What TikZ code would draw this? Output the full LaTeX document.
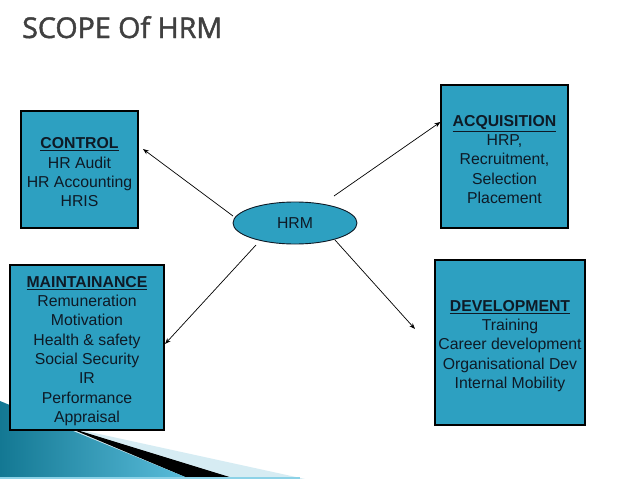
\documentclass[tikz,border=0pt]{standalone}
\usepackage{fontspec}
\setmainfont{Liberation Sans}
\newfontfamily\titlefont[FakeBold=1.6]{Open Sans}
\usetikzlibrary{shapes.geometric,arrows.meta}
\definecolor{boxfill}{HTML}{2DA0C1}
\definecolor{boxtext}{HTML}{0E1A26}
\definecolor{titlegray}{HTML}{404040}
\definecolor{wedgedark}{HTML}{137893}
\definecolor{wedgelight}{HTML}{5BBEDC}
\definecolor{wedgepale}{HTML}{D6ECF3}
\begin{document}
\begin{tikzpicture}[x=1pt,y=-1pt,
  hrbox/.style={draw=black,line width=1.1pt,fill=boxfill,inner sep=0pt},
  hrtext/.style={text=boxtext,align=center,inner sep=0pt,font=\fontsize{15.8}{19.3}\selectfont},
  hrell/.style={ellipse,draw=boxtext,line width=0.9pt,fill=boxfill,text=boxtext,inner sep=0pt,
    minimum width=124pt,minimum height=42pt,font=\fontsize{15.8}{19.3}\selectfont},
  arr/.style={line width=0.7pt,-{Stealth[length=6pt,width=4.5pt]}}]
\useasboundingbox (0,0) rectangle (638,479);
\fill[white] (0,0) rectangle (638,479);
% bottom decoration
\fill[wedgepale] (67,427) -- (305,479) -- (0,479) -- cycle;
\fill[black] (67,427) -- (236,479) -- (190,479) -- cycle;
\shade[left color=wedgedark,right color=wedgelight] (0,401) -- (190,479) -- (0,479) -- cycle;
\fill[wedgelight!70!white] (0,476.5) rectangle (300,479);
% title
\node[anchor=base west,inner sep=0pt,text=titlegray,font=\titlefont\fontsize{28.6}{30}\selectfont] (title) at (22,38) {SCOPE Of HRM};
% boxes
\node[hrbox,minimum width=117pt,minimum height=117pt] (control) at (79.5,169.5) {};
\node[hrtext] (controlText) at ([yshift=-3pt]control.center)
  {\underline{\textbf{CONTROL}}\\HR Audit\\HR Accounting\\HRIS};
\node[hrbox,minimum width=127pt,minimum height=143pt] (acq) at (504.5,156.5) {};
\node[hrtext] (acqText) at ([yshift=-3pt]acq.center)
  {\underline{\textbf{ACQUISITION}}\\HRP,\\Recruitment,\\ Selection\\ Placement};
\node[hrbox,minimum width=154pt,minimum height=165pt] (maint) at (87,347.5) {};
\node[hrtext] (maintText) at ([yshift=-3.5pt]maint.center)
  {\underline{\textbf{MAINTAINANCE}}\\Remuneration\\Motivation\\Health \& safety\\Social Security\\IR\\Performance\\Appraisal};
\node[hrbox,minimum width=150pt,minimum height=165pt] (dev) at (510,342.5) {};
\node[hrtext] (devText) at ([yshift=-3.5pt]dev.center)
  {\underline{\textbf{DEVELOPMENT}}\\Training\\Career development\\Organisational Dev\\Internal Mobility};
\node[hrell] (hrm) at (295,223) {HRM};
% arrow ends
\coordinate (sCtl) at (233,216);
\coordinate (eCtl) at (143,149);
\coordinate (sAcq) at (334,196);
\coordinate (sMnt) at (256,245);
\coordinate (eMnt) at (165,344);
\coordinate (sDev) at (335,240);
\coordinate (eDev) at (415,329);
\draw[arr] (sCtl) -- (eCtl);
\draw[arr] (sAcq) -- (acq.west |- 0,122);
\draw[arr] (sMnt) -- (eMnt);
\draw[arr] (sDev) -- (eDev);
\end{tikzpicture}
\end{document}
